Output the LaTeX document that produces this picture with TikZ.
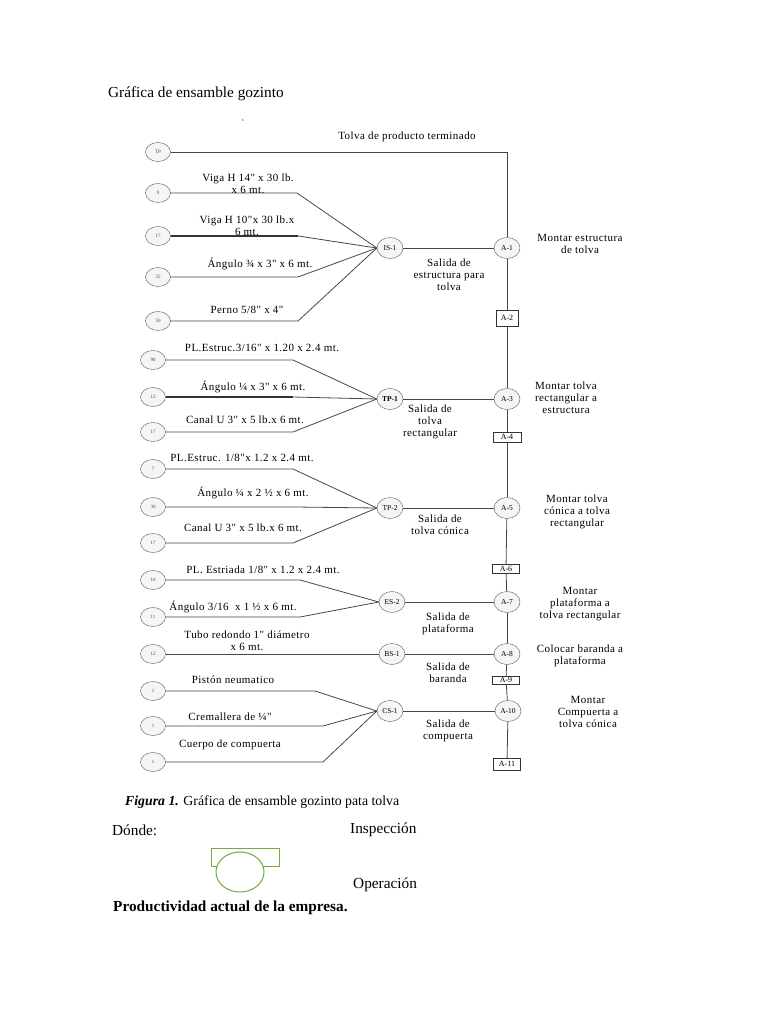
\documentclass[tikz,border=0pt]{standalone}
\usepackage{fontspec}
\setmainfont{Liberation Serif}
\newfontfamily\lblfont[LetterSpace=4]{Liberation Serif}
\usetikzlibrary{shapes.geometric}
\definecolor{legendgreen}{RGB}{112,173,71}
\begin{document}
\begin{tikzpicture}[x=1pt,y=-1pt,
  ln/.style={draw=black!72, line width=0.8pt},
  thick ln/.style={draw=black!80, line width=1.5pt},
  src/.style={ellipse, draw=black!65, fill=gray!8, minimum width=25pt, minimum height=19pt, inner sep=0pt, font=\fontsize{5}{5}\selectfont, text=black!70},
  jn/.style={ellipse, draw=black!65, fill=gray!8, minimum width=26pt, minimum height=21pt, inner sep=0pt, font=\fontsize{7.5}{8}\selectfont},
  abox/.style={rectangle, draw=black!80, fill=white, inner sep=0pt, minimum width=27pt, font=\fontsize{8}{8}\selectfont},
  lbl/.style={font=\lblfont\fontsize{11}{12}\selectfont, align=center, inner sep=0pt},
  body/.style={font=\fontsize{15.3}{18}\selectfont, anchor=west, inner sep=0pt}
]
\useasboundingbox (0,0) rectangle (768,1024);

% heading
\node[body] (title) at (108,94) {Gráfica de ensamble gozinto};
\node[font=\fontsize{8}{8}\selectfont, inner sep=0pt] (tick) at (243,122) {`};

% source circles
\node[src] (s1) at (158,152) {TP};
\node[src] (s2) at (158,193) {9};
\node[src] (s3) at (158,236) {17};
\node[src] (s4) at (158,277) {25};
\node[src] (s5) at (158,321) {50};
\node[src] (s6) at (153,360) {90};
\node[src] (s7) at (153,397) {12};
\node[src] (s8) at (153,432) {17};
\node[src] (s9) at (153,469) {7};
\node[src] (s10) at (153,507) {30};
\node[src] (s11) at (153,543) {17};
\node[src] (s12) at (153,580) {10};
\node[src] (s13) at (153,617) {11};
\node[src] (s14) at (153,654) {12};
\node[src] (s15) at (153,691) {1};
\node[src] (s16) at (153,726) {1};
\node[src] (s17) at (153,762) {1};

% sub-assemblies
\node[jn] (is1) at (390,248) {IS-1};
\node[jn] (tp1) at (390,399) {\textbf{TP-1}};
\node[jn] (tp2) at (390,508) {TP-2};
\node[jn] (es2) at (392,602) {ES-2};
\node[jn] (bs1) at (392,654) {BS-1};
\node[jn] (cs1) at (390,711) {CS-1};

% main line nodes
\node[jn] (a1) at (507,248) {A-1};
\node[abox, minimum width=22pt, minimum height=16pt] (a2) at (507,318) {A-2};
\node[jn] (a3) at (507,399) {A-3};
\node[abox, minimum width=28pt, minimum height=10pt] (a4) at (507,437) {A-4};
\node[jn] (a5) at (507,508) {A-5};
\node[abox, minimum height=9pt] (a6) at (506,569) {A-6};
\node[jn] (a7) at (507,602) {A-7};
\node[jn] (a8) at (507,654) {A-8};
\node[abox, minimum height=8pt] (a9) at (506,680) {A-9};
\node[jn] (a10) at (508,711) {A-10};
\node[abox, minimum height=12pt] (a11) at (507,764) {A-11};

% connectors
\draw[ln] (s1) -- (507,152) -- (a1);
\draw[ln] (s2) -- (297,193) -- (is1.west);
\draw[thick ln] (s3) -- (298,236);
\draw[ln] (298,236) -- (is1.west);
\draw[ln] (s4) -- (298,277) -- (is1.west);
\draw[ln] (s5) -- (298,321) -- (is1.west);

\draw[ln] (s6) -- (293,360) -- (tp1.west);
\draw[thick ln] (s7) -- (293,397);
\draw[ln] (293,397) -- (tp1.west);
\draw[ln] (s8) -- (293,432) -- (tp1.west);

\draw[ln] (s9) -- (293,469) -- (tp2.west);
\draw[ln] (s10) -- (295,507) -- (tp2.west);
\draw[ln] (s11) -- (293,543) -- (tp2.west);

\draw[ln] (s12) -- (300,580) -- (es2.west);
\draw[ln] (s13) -- (300,617) -- (es2.west);
\draw[ln] (s14) -- (bs1);

\draw[ln] (s15) -- (315,691) -- (cs1.west);
\draw[ln] (s16) -- (323,726) -- (cs1.west);
\draw[ln] (s17) -- (323,762) -- (cs1.west);

\draw[ln] (is1) -- (a1);
\draw[ln] (tp1) -- (a3);
\draw[ln] (tp2) -- (a5);
\draw[ln] (es2) -- (a7);
\draw[ln] (bs1) -- (a8);
\draw[ln] (cs1) -- (a10);

\draw[ln] (a1) -- (a2);
\draw[ln] (a2) -- (a3);
\draw[ln] (a3) -- (a4);
\draw[ln] (a4) -- (a5);
\draw[ln] (a5) -- (a6);
\draw[ln] (a6) -- (a7);
\draw[ln] (a7) -- (a8);
\draw[ln] (a8) -- (a9);
\draw[ln] (a9) -- (a10);
\draw[ln] (a10) -- (a11);

% material labels
\node[lbl] (t1) at (407,137) {Tolva de producto terminado};
\node[lbl] (t2) at (248,184) {Viga H 14" x 30 lb.\\x 6 mt.};
\node[lbl] (t3) at (247,226) {Viga H 10"x 30 lb.x\\6 mt.};
\node[lbl] (t4) at (260,264) {Ángulo ¾ x 3" x 6 mt.};
\node[lbl] (t5) at (247,310) {Perno 5/8" x 4"};
\node[lbl] (t6) at (262,348) {PL.Estruc.3/16" x 1.20 x 2.4 mt.};
\node[lbl] (t7) at (253,387) {Ángulo ¼ x 3" x 6 mt.};
\node[lbl] (t8) at (245,420) {Canal U 3" x 5 lb.x 6 mt.};
\node[lbl] (t9) at (242,458) {PL.Estruc. 1/8"x 1.2 x 2.4 mt.};
\node[lbl] (t10) at (253,493) {Ángulo ¼ x 2 ½ x 6 mt.};
\node[lbl] (t11) at (243,528) {Canal U 3" x 5 lb.x 6 mt.};
\node[lbl] (t12) at (263,570) {PL. Estriada 1/8" x 1.2 x 2.4 mt.};
\node[lbl] (t13) at (233,607) {Ángulo 3/16 \ x 1 ½ x 6 mt.};
\node[lbl] (t14) at (247,641) {Tubo redondo 1" diámetro\\x 6 mt.};
\node[lbl] (t15) at (233,680) {Pistón neumatico};
\node[lbl] (t16) at (230,717) {Cremallera de ¼"};
\node[lbl] (t17) at (230,745) {Cuerpo de compuerta};

% output labels
\node[lbl] (o1) at (449,275) {Salida de\\estructura para\\tolva};
\node[lbl] (o2) at (430,422) {Salida de\\tolva\\rectangular};
\node[lbl] (o3) at (440,525) {Salida de\\tolva cónica};
\node[lbl] (o4) at (448,624) {Salida de\\plataforma};
\node[lbl] (o5) at (448,673) {Salida de\\baranda};
\node[lbl] (o6) at (448,731) {Salida de\\compuerta};

% operation labels
\node[lbl] (m1) at (580,244) {Montar estructura\\de tolva};
\node[lbl] (m2) at (566,398) {Montar tolva\\rectangular a\\estructura};
\node[lbl] (m3) at (577,512) {Montar tolva\\cónica a tolva\\rectangular};
\node[lbl] (m4) at (580,604) {Montar\\plataforma a\\tolva rectangular};
\node[lbl] (m5) at (580,656) {Colocar baranda a\\plataforma};
\node[lbl] (m6) at (588,712) {Montar\\Compuerta a\\tolva cónica};

% caption and legend
\node[body, font=\fontsize{13.8}{16}\selectfont] (cap) at (125,802) {\textbf{\textit{Figura 1.}} Gráfica de ensamble gozinto pata tolva};
\node[body] (donde) at (112,830) {Dónde:};
\node[body] (insp) at (350,830) {Inspección};
\node[body] (oper) at (353,885) {Operación};
\node[rectangle, draw=legendgreen, line width=1pt, minimum width=68pt, minimum height=18pt, inner sep=0pt] (sqr) at (245,857) {};
\node[ellipse, draw=legendgreen, fill=white, line width=1pt, minimum width=48pt, minimum height=40pt, inner sep=0pt] (circ) at (240,872) {};
\node[body, font=\bfseries\fontsize{15.3}{18}\selectfont] (prod) at (113,908) {Productividad actual de la empresa.};
\end{tikzpicture}
\end{document}
